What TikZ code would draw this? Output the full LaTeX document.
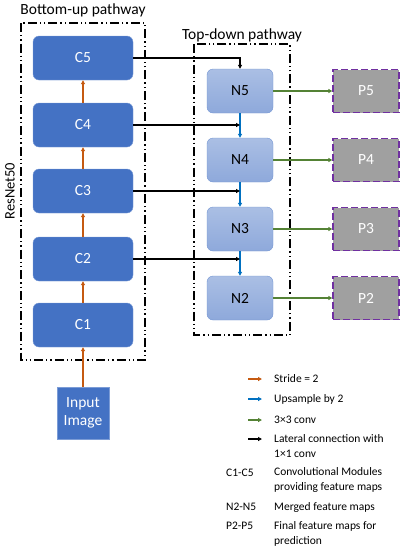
\documentclass[tikz,border=0pt]{standalone}
\usepackage{fontspec}
\setmainfont{Carlito}
\usetikzlibrary{arrows.meta}
\definecolor{cblue}{HTML}{4472C4}
\definecolor{nblue}{HTML}{8EA9DB}
\definecolor{pgray}{HTML}{A0A0A0}
\definecolor{ppurple}{HTML}{7030A0}
\definecolor{sorange}{HTML}{C55A11}
\definecolor{ublue}{HTML}{0070C0}
\definecolor{cgreen}{HTML}{548235}
\tikzset{
  cbox/.style={draw=cblue!70!white, fill=cblue, rounded corners=6pt, minimum width=100pt,
    minimum height=44pt, text=white, font=\fontsize{15.5}{17}\selectfont},
  nbox/.style={draw=cblue!75!white, top color=nblue!75!white, bottom color=nblue, rounded corners=6pt,
    minimum width=66pt, minimum height=44pt, font=\fontsize{15.5}{17}\selectfont},
  pbox/.style={preaction={draw=white, solid, line width=1.3pt}, draw=ppurple, fill=pgray, line width=1.3pt,
    dash pattern=on 7pt off 3pt, minimum width=66pt, minimum height=43pt, text=white,
    font=\fontsize{15.5}{17}\selectfont},
  pathbox/.style={line width=1.4pt, dash pattern=on 9pt off 3pt on 1.3pt off 3pt on 1.3pt off 3pt},
  stride/.style={sorange, line width=1.2pt, -{Triangle[length=4pt,width=4pt]}},
  upsmp/.style={ublue, line width=1.2pt, -{Triangle[length=4pt,width=4pt]}},
  conv/.style={cgreen, line width=1.2pt, -{Triangle[length=4pt,width=4pt]}},
  lat/.style={black, line width=1.2pt, -{Triangle[length=4pt,width=4pt]}},
  legtxt/.style={anchor=west, inner sep=0pt, align=left, font=\fontsize{11.5}{14.5}\selectfont},
}
\begin{document}
\begin{tikzpicture}[x=1pt,y=-1pt]
  \useasboundingbox (0,0) rectangle (404,550);

% bottom-up pathway
  \draw[pathbox] (21,23) rectangle (145,360);
  \node[font=\fontsize{15.5}{17}\selectfont] (butitle) at (83,10) {Bottom-up pathway};
  \node[rotate=90, font=\fontsize{14.5}{16}\selectfont] (resnet) at (10,191) {ResNet50};
  \node[cbox] (c5) at (83,58)  {C5};
  \node[cbox] (c4) at (83,125) {C4};
  \node[cbox] (c3) at (83,191) {C3};
  \node[cbox] (c2) at (83,259) {C2};
  \node[cbox] (c1) at (83,325) {C1};
  \node[draw=cblue!70!white, fill=cblue, minimum width=52pt, minimum height=52pt, text=white,
        align=center, inner sep=1pt, font=\fontsize{15.5}{18}\selectfont] (img) at (83,413) {Input\\Image};
  \draw[stride] (img) -- (c1);
  \draw[stride] (c1) -- (c2);
  \draw[stride] (c2) -- (c3);
  \draw[stride] (c3) -- (c4);
  \draw[stride] (c4) -- (c5);

% top-down pathway
  \draw[pathbox] (194,44) rectangle (290,335);
  \node[font=\fontsize{15.5}{17}\selectfont] (tdtitle) at (242,35) {Top-down pathway};
  \node[nbox] (n5) at (240,91)  {N5};
  \node[nbox] (n4) at (240,160) {N4};
  \node[nbox] (n3) at (240,229) {N3};
  \node[nbox] (n2) at (240,298) {N2};
  \draw[upsmp] (n5) -- (n4);
  \draw[upsmp] (n4) -- (n3);
  \draw[upsmp] (n3) -- (n2);

% lateral connections
  \draw[lat] (c5.east) -| (n5.north);
  \draw[lat] (c4.east) -- (c4.east -| n5.center);
  \draw[lat] (c3.east) -- (c3.east -| n4.center);
  \draw[lat] (c2.east) -- (c2.east -| n3.center);

% predictions
  \node[pbox] (p5) at (366,91)  {P5};
  \node[pbox] (p4) at (366,160) {P4};
  \node[pbox] (p3) at (366,229) {P3};
  \node[pbox] (p2) at (366,298) {P2};
  \draw[conv] (n5) -- (p5);
  \draw[conv] (n4) -- (p4);
  \draw[conv] (n3) -- (p3);
  \draw[conv] (n2) -- (p2);

% legend
  \node[legtxt] (lg1) at (274,379) {Stride = 2};
  \node[legtxt] (lg2) at (274,399) {Upsample by 2};
  \node[legtxt] (lg3) at (274,420) {3×3 conv};
  \node[legtxt] (lg4) at (274,446) {Lateral connection with\\1×1 conv};
  \draw[stride] ([xshift=-26pt]lg1.west) -- ++(14,0);
  \draw[upsmp]  ([xshift=-26pt]lg2.west) -- ++(14,0);
  \draw[conv]   ([xshift=-26pt]lg3.west) -- ++(14,0);
  \draw[lat]    ([xshift=-26pt,yshift=7pt]lg4.west) -- ++(14,0);
  \node[legtxt] (k1) at (226,473) {C1-C5};
  \node[legtxt] (v1) at (274,480) {Convolutional Modules\\providing feature maps};
  \node[legtxt] (k2) at (226,507) {N2-N5};
  \node[legtxt] (v2) at (274,507) {Merged feature maps};
  \node[legtxt] (k3) at (226,526) {P2-P5};
  \node[legtxt] (v3) at (274,534) {Final feature maps for\\prediction};
\end{tikzpicture}
\end{document}
